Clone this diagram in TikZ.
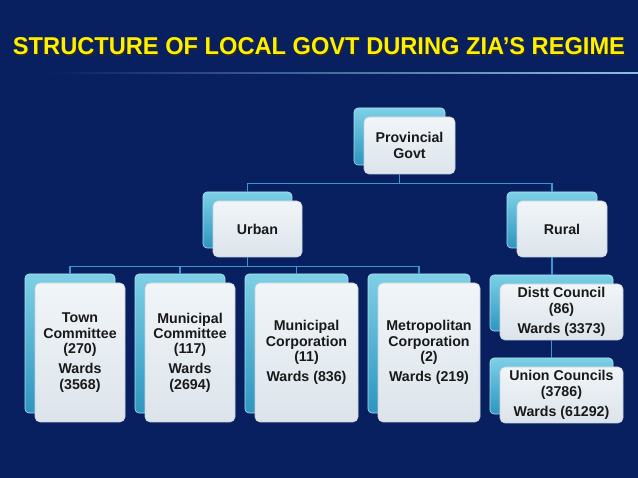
\documentclass[tikz,border=0pt]{standalone}
\usepackage{fontspec}
\setmainfont{Liberation Sans}
\usepackage{graphicx}
\usetikzlibrary{positioning,calc}
\definecolor{slideblue}{RGB}{8,31,96}
\definecolor{titleyellow}{RGB}{255,240,0}
\definecolor{titleshade}{RGB}{40,40,30}
\definecolor{linkblue}{RGB}{62,150,205}
\definecolor{tealtop}{RGB}{125,208,230}
\definecolor{tealbottom}{RGB}{45,150,192}
\definecolor{paletop}{RGB}{240,245,248}
\definecolor{palebottom}{RGB}{220,228,235}
\definecolor{paleedge}{RGB}{200,208,218}

\begin{document}
\begin{tikzpicture}[x=1pt, y=-1pt,
    backbox/.style 2 args={rounded corners=4pt, top color=tealtop, bottom color=tealbottom,
        draw=tealtop!60!white, line width=0.6pt, minimum width=#1, minimum height=#2},
    frontbox/.style 2 args={rounded corners=5pt, top color=paletop, bottom color=palebottom,
        draw=paleedge, line width=0.6pt, minimum width=#1, minimum height=#2,
        align=center, text=black!90, inner sep=2pt,
        font=\fontsize{14.2}{15.3}\selectfont\bfseries},
    link/.style={draw=linkblue, line width=1.5pt}]
    % Slide background
    \useasboundingbox (0,0) rectangle (638,478);
    \fill[slideblue] (0,0) rectangle (638,478);

    % Title and rule
    \node[text=titleshade, inner sep=0pt] (titleshadow) at (320.2,47.7)
        {\bfseries\resizebox{612pt}{17pt}{STRUCTURE OF LOCAL GOVT DURING ZIA’S REGIME}};
    \node[text=titleyellow, inner sep=0pt] (title) at (319,46.5)
        {\bfseries\resizebox{612pt}{17pt}{STRUCTURE OF LOCAL GOVT DURING ZIA’S REGIME}};
    \shade[left color=slideblue, right color=linkblue!60!white] (45,72.3) rectangle (638,73.8);

    % Provincial level
    \node[backbox={91pt}{57pt}] (provB) at (399.5,136.5) {};
    \node[frontbox={91pt}{57pt}] (prov) at (409.5,145.5) {\raisebox{-4pt}{\parbox{80pt}{\centering Provincial\\Govt}}};

    % Urban and rural
    \node[backbox={89pt}{56pt}] (urbanB) at (247.5,220) {};
    \node[frontbox={89pt}{56pt}] (urban) at (257.5,229) {Urban};
    \node[backbox={90pt}{56pt}] (ruralB) at (552,220) {};
    \node[frontbox={90pt}{56pt}] (rural) at (562,229) {Rural};

    % Urban bodies
    \node[backbox={90pt}{139pt}] (townB) at (70,343.5) {};
    \node[frontbox={90pt}{139pt}] (town) at (80,352.5) {Town\\Committee\\(270)\\[5pt]Wards\\(3568)};
    \node[backbox={90pt}{139pt}] (mcomB) at (180,343.5) {};
    \node[frontbox={90pt}{139pt}] (mcom) at (190,352.5) {Municipal\\Committee\\(117)\\[5pt]Wards\\(2694)};
    \node[backbox={103pt}{139pt}] (mcorpB) at (296.5,343.5) {};
    \node[frontbox={103pt}{139pt}] (mcorp) at (306.5,352.5) {Municipal\\Corporation\\(11)\\[5pt]Wards (836)};
    \node[backbox={102pt}{139pt}] (metroB) at (419,343.5) {};
    \node[frontbox={102pt}{139pt}] (metro) at (429,352.5) {Metropolitan\\Corporation\\(2)\\[5pt]Wards (219)};

    % Rural bodies
    \node[backbox={123pt}{56pt}] (disttB) at (551.5,303) {};
    \node[frontbox={123pt}{56pt}] (distt) at (561.5,312) {Distt Council\\(86)\\[5pt]Wards (3373)};
    \node[backbox={123pt}{56pt}] (unionB) at (551.5,386) {};
    \node[frontbox={123pt}{56pt}] (union) at (561.5,395) {Union Councils\\(3786)\\[5pt]Wards (61292)};

    % Links
    \draw[link] (prov.south -| provB) -- ++(0,9) coordinate (bus1);
    \draw[link] (bus1) -| (urbanB.north);
    \draw[link] (bus1) -| (ruralB.north);
    \draw[link] (urban.south -| urbanB) -- ++(0,9) coordinate (bus2);
    \foreach \kid in {townB,mcomB,mcorpB,metroB}
        \draw[link] (bus2) -| (\kid.north);
    \draw[link] (rural.south -| ruralB) -- (ruralB |- disttB.north);
    \draw[link] (distt.south -| disttB) -- (disttB |- unionB.north);
\end{tikzpicture}
\end{document}
